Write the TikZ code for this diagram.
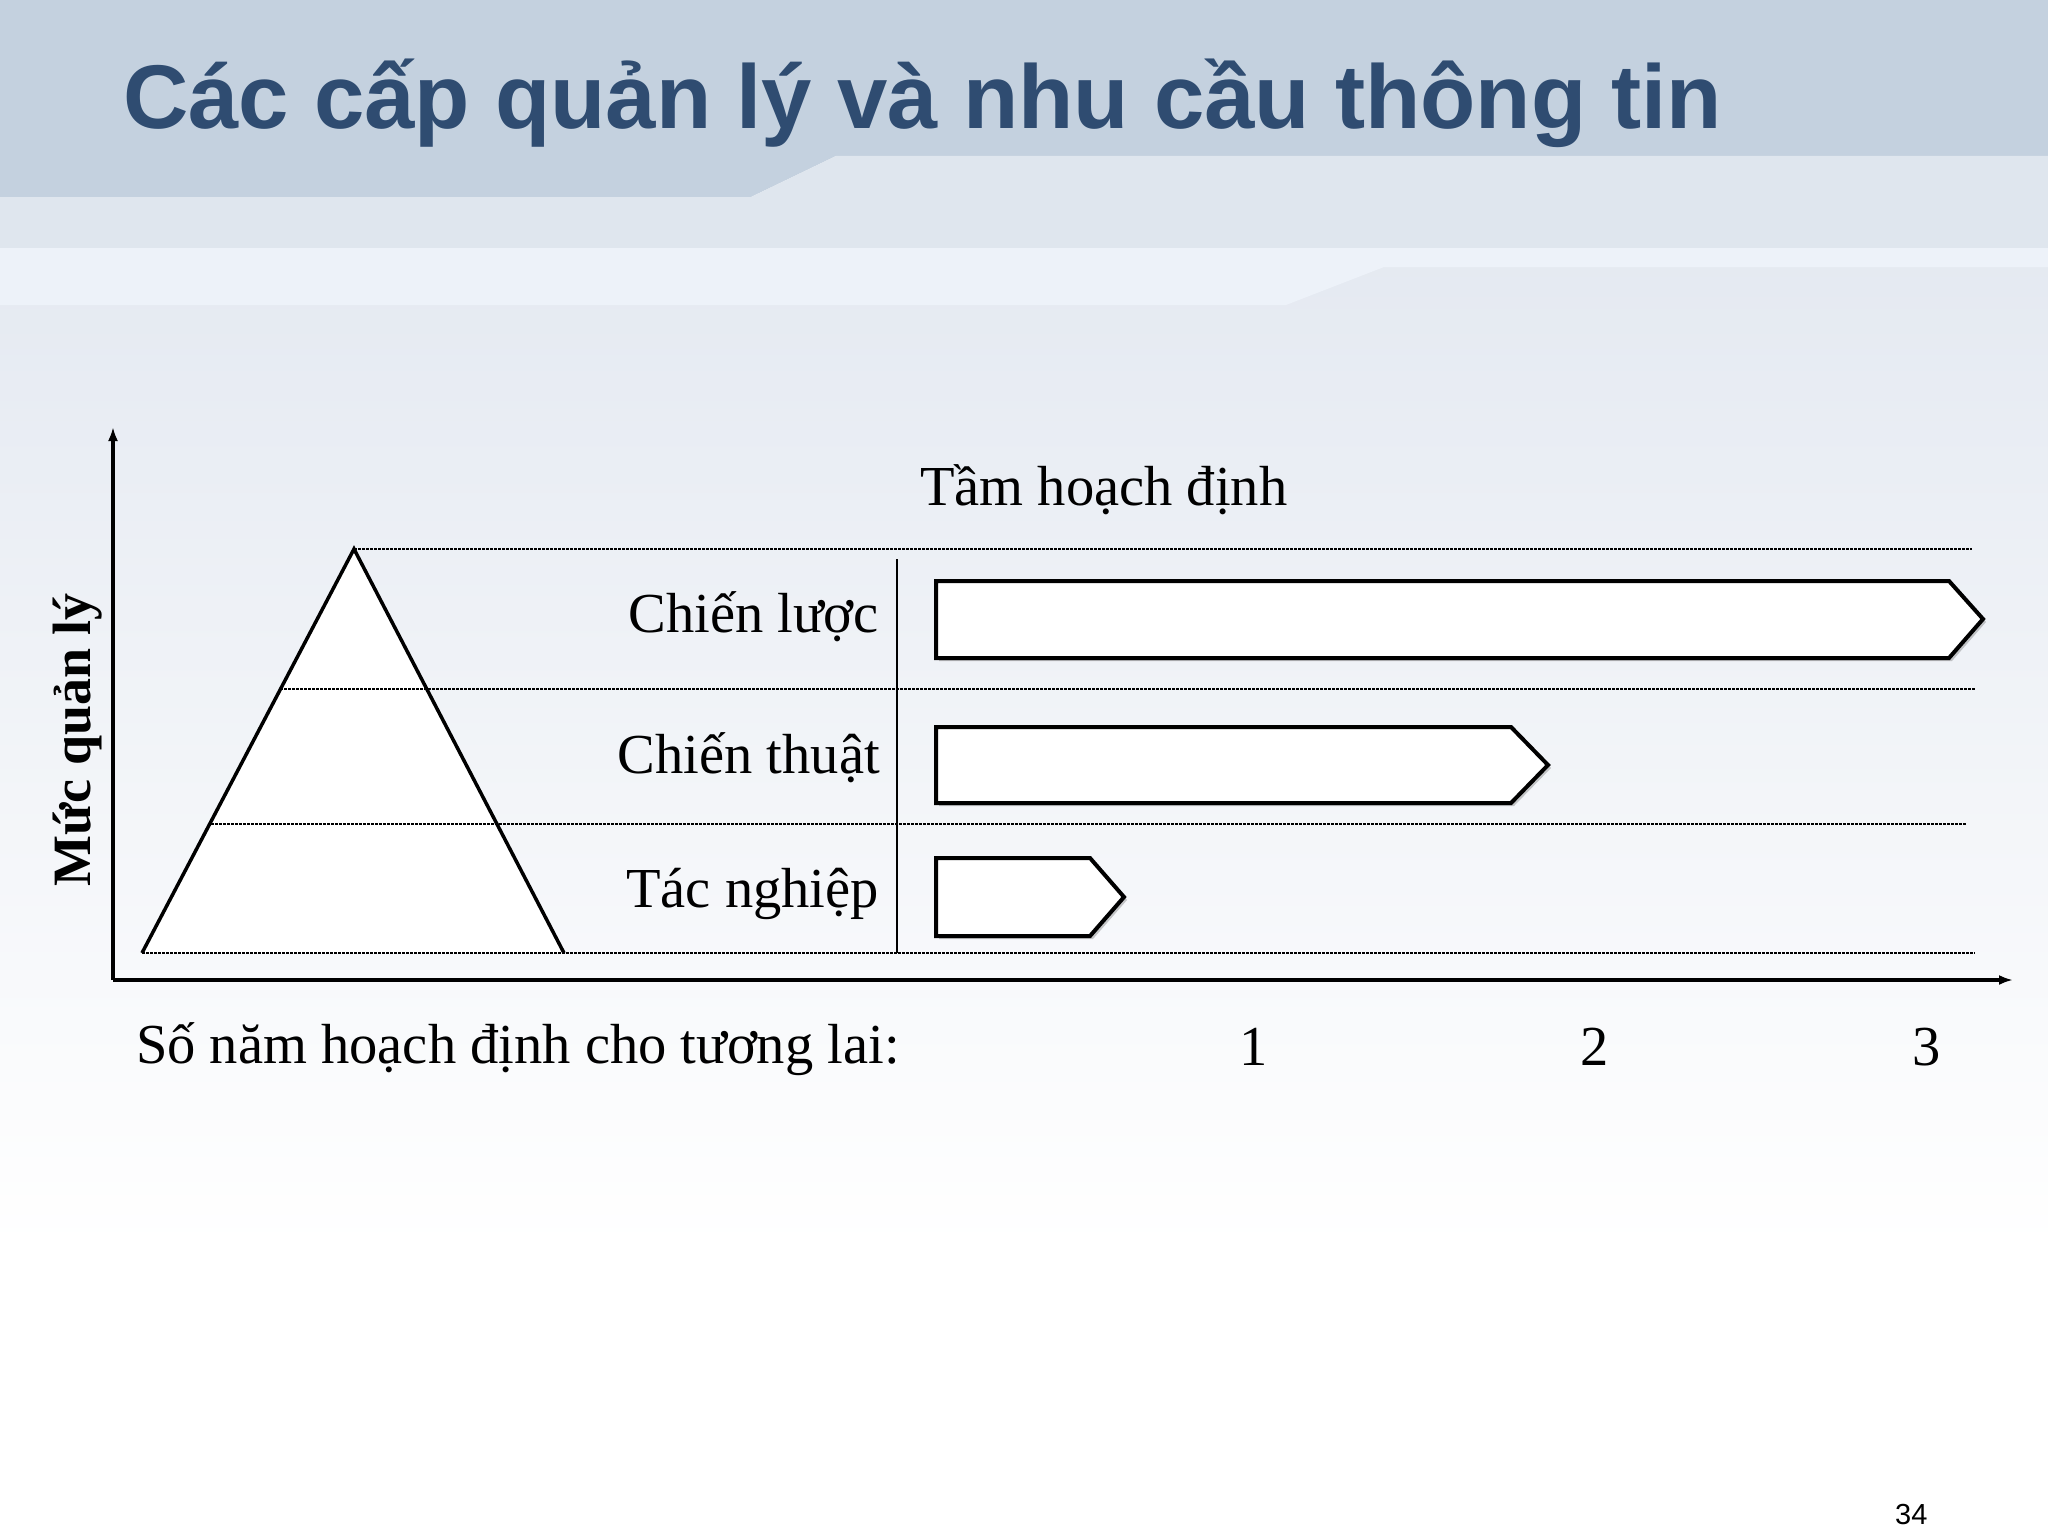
\documentclass[tikz,border=0pt]{standalone}
\usepackage{fontspec}
\setmainfont{Liberation Serif}
\newfontfamily\titlefont{Liberation Sans}
\usetikzlibrary{arrows.meta,shadows}
\definecolor{bandA}{RGB}{196,209,223}
\definecolor{bandB}{RGB}{223,230,238}
\definecolor{bandC}{RGB}{237,242,249}
\definecolor{bodytop}{RGB}{228,233,241}
\definecolor{titleblue}{RGB}{47,76,113}
\begin{document}
\begin{tikzpicture}[x=1pt,y=-1pt,
  lbl/.style={font=\fontsize{56.5}{60}\selectfont, inner sep=0pt},
  dotline/.style={line width=2.5pt, dash pattern=on 2.5pt off 1.5pt},
  axisline/.style={line width=3.5pt, -{Latex[length=14pt,width=10pt]}},
  bar/.style={draw, line width=4pt, fill=white, line join=miter,
    drop shadow={shadow xshift=3pt,shadow yshift=-3pt,opacity=0.35,fill=black!60}},
  pyr/.style={line width=3.5pt, line join=miter},
]
\useasboundingbox (0,0) rectangle (2048,1536);
% background
\fill[white] (0,0) rectangle (2048,1536);
\shade[top color=bodytop, bottom color=white] (0,240) rectangle (2048,1250);
\fill[bandA] (0,0) -- (2048,0) -- (2048,156) -- (836,156) -- (751,197) -- (0,197) -- cycle;
\fill[bandB] (0,197) -- (751,197) -- (836,156) -- (2048,156) -- (2048,248) -- (0,248) -- cycle;
\fill[bandC] (0,248) -- (2048,248) -- (2048,267) -- (1384,267) -- (1286,305) -- (0,305) -- cycle;

% title
\node[font=\titlefont\bfseries\fontsize{90.5}{100}\selectfont, text=titleblue,
  anchor=base west, inner sep=0pt] (title) at (123,129) {Các cấp quản lý và nhu cầu thông tin};

% pyramid
\coordinate (apex) at (354,549);
\coordinate (bl) at (142,953);
\coordinate (br) at (564,953);
\fill[white] (apex) -- (br) -- (bl) -- cycle;
\draw[pyr] (bl) -- (apex) -- (br);

% dotted level lines
\draw[dotline] (apex) -- (1972,549);
\draw[dotline] (280,689) -- (1975,689);
\draw[dotline] (211,824) -- (1967,824);
\draw[dotline] (bl) -- (1975,953);

% separator
\draw[line width=2.5pt] (897,559) -- (897,953);

% axes
\coordinate (origin) at (113,980);
\coordinate (ytip) at (113,427);
\coordinate (xtip) at (2013,980);
\draw[axisline] (origin) -- (ytip);
\draw[axisline] (origin) -- (xtip);

% bars
\path[bar] (936,581) -- (1949,581) -- (1983,619) -- (1949,658) -- (936,658) -- cycle;
\path[bar] (936,727) -- (1511,727) -- (1548,765) -- (1511,803) -- (936,803) -- cycle;
\path[bar] (936,858) -- (1090,858) -- (1124,897) -- (1090,936) -- (936,936) -- cycle;

% labels
\node[lbl, anchor=base west] (tam) at (920,505) {Tầm hoạch định};
\node[lbl, anchor=base east] (cl) at (879,632) {Chiến lược};
\node[lbl, anchor=base east] (ct) at (880,773) {Chiến thuật};
\node[lbl, anchor=base east] (tn) at (879,907) {Tác nghiệp};
\node[font=\bfseries\fontsize{54}{58}\selectfont, inner sep=0pt, rotate=90, anchor=base west] (ylab) at (90,887) {Mức quản lý};
\node[lbl, anchor=base west] (sonam) at (136,1063) {Số năm hoạch định cho tương lai:};
\node[lbl, anchor=base] (n1) at (1254,1065) {1};
\node[lbl, anchor=base] (n2) at (1595,1065) {2};
\node[lbl, anchor=base] (n3) at (1927,1065) {3};
\node[font=\titlefont\fontsize{29}{32}\selectfont, anchor=base west, inner sep=0pt] (pg) at (1895,1524) {34};
\end{tikzpicture}
\end{document}
